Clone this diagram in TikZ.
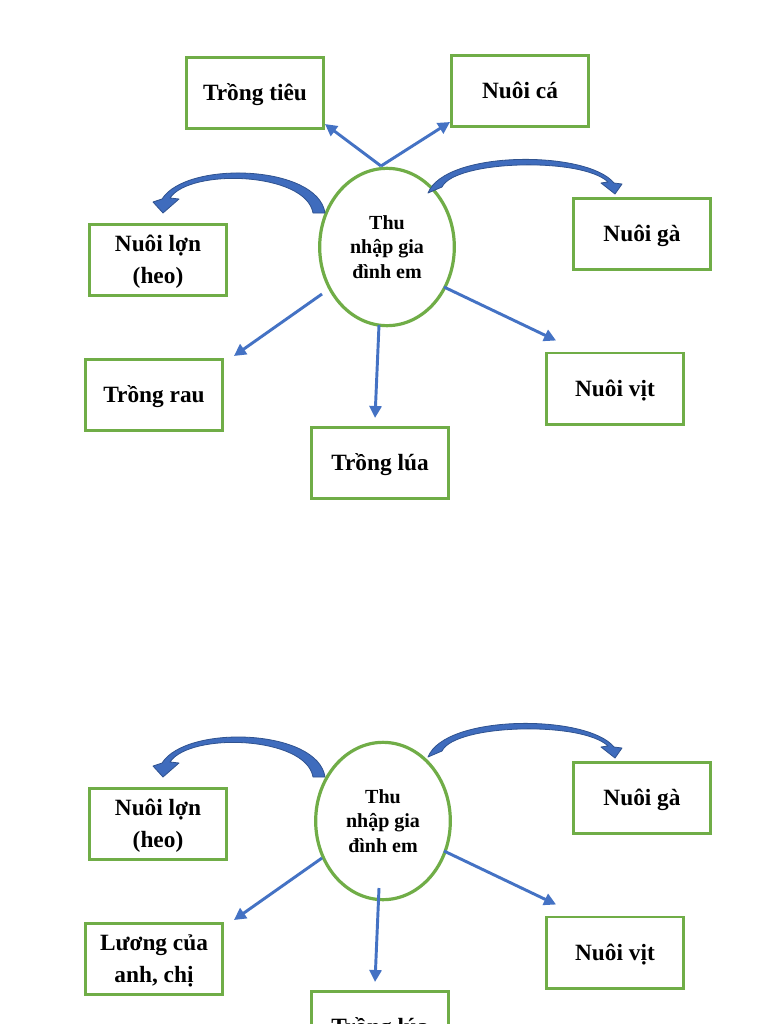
\documentclass[tikz,border=0pt]{standalone}
\usepackage{fontspec}
\setmainfont{Liberation Serif}
\usetikzlibrary{arrows.meta,shapes.geometric,calc}
\definecolor{boxgreen}{HTML}{70AD47}
\definecolor{arrblue}{HTML}{4472C4}
\definecolor{darkblue}{HTML}{2F528F}
\definecolor{midblue}{HTML}{3F6CBD}
\newcommand\bstrut{\vrule height 15.6pt depth 3.8pt width 0pt}
\newcommand\estrut{\vrule height 13.4pt depth 3.2pt width 0pt}
\begin{document}
\begin{tikzpicture}[x=0.75pt,y=-0.75pt,
  box/.style={draw=boxgreen,line width=1.9pt,minimum width=103pt,minimum height=53.6pt,inner sep=0pt,align=center,font=\fontsize{17.5}{24}\selectfont\bfseries},
  ell/.style={ellipse,draw=boxgreen,line width=2.4pt,minimum width=101pt,minimum height=118pt,inner sep=0pt,align=center,font=\fontsize{15}{18.6}\selectfont\bfseries},
  arr/.style={draw=arrblue,line width=2.2pt,-{Triangle[length=9pt,width=9pt]}},
  curvearrow/.style={fill=midblue,draw=darkblue,line width=0.6pt,line join=round}
]
\fill[white] (0,0) rectangle (768,1024);
\useasboundingbox (0,0) rectangle (768,1024);

% ---------- top diagram ----------
\node[ell] (e1) at (387,247) {\estrut Thu\\\estrut nhập gia\\\estrut đình em};
\node[box] (tieu) at (255,93) {\bstrut Trồng tiêu};
\node[box] (ca) at (520,91) {\bstrut Nuôi cá};
\node[box] (lon) at (158,260) {\bstrut Nuôi lợn\\\bstrut (heo)};
\node[box] (ga) at (642,234) {\bstrut Nuôi gà};
\node[box] (rau) at (154,395) {\bstrut Trồng rau};
\node[box] (vit) at (615,388.5) {\bstrut Nuôi vịt};
\node[box] (lua) at (380,463) {\bstrut Trồng lúa};

\draw[arr] ($(e1.center)+(-6,-81)$) -- ($(tieu.south east)+(0,-6)$);
\draw[arr] ($(e1.center)+(-6,-81)$) -- ($(ca.south west)+(0,-6)$);
\draw[arr] ($(e1.center)+(-65,47)$) -- ($(rau.north east)+(10,-2)$);
\draw[arr] ($(e1.center)+(-8,78)$) -- ($(lua.north)+(-5,-8)$);
\draw[arr] ($(e1.center)+(57,40)$) -- ($(vit.north west)+(11,-11)$);

\foreach \dy in {0,564}{
\begin{scope}[shift={(0,\dy)}]
  \filldraw[curvearrow] (325,213) .. controls (318,165) and (187,160) .. (162,199)
    -- (153,202) -- (163,213) -- (179,199) -- (170,198)
    .. controls (190,168) and (306,172) .. (313,213) -- cycle;
  \filldraw[curvearrow] (428,193) .. controls (445,150) and (587,150) .. (614,183)
    -- (622,184) -- (615,194) -- (601,183) -- (608,182)
    .. controls (582,157) and (455,160) .. (442,187) -- cycle;
\end{scope}
}

% ---------- bottom diagram ----------
\node[ell] (e2) at (383,821) {\estrut Thu\\\estrut nhập gia\\\estrut đình em};
\node[box] (lon2) at (158,824) {\bstrut Nuôi lợn\\\bstrut (heo)};
\node[box] (ga2) at (642,798) {\bstrut Nuôi gà};
\node[box] (luong) at (154,959) {\bstrut Lương của\\\bstrut anh, chị};
\node[box] (vit2) at (615,952.5) {\bstrut Nuôi vịt};
\node[box] (lua2) at (380,1027) {\bstrut Trồng lúa};

\draw[arr] ($(e2.center)+(-61,37)$) -- ($(luong.north east)+(10,-2)$);
\draw[arr] ($(e2.center)+(-4,67)$) -- ($(lua2.north)+(-5,-8)$);
\draw[arr] ($(e2.center)+(61,30)$) -- ($(vit2.north west)+(11,-11)$);
\end{tikzpicture}
\end{document}
